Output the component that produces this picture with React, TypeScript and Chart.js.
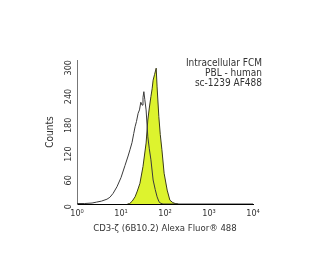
import React, { useEffect, useRef } from "react";
import { Chart, registerables } from "chart.js";

Chart.register(...registerables);

const xTickValues = [1, 10, 100, 1000, 10000];
const xTickLabels = ["10⁰", "10¹", "10²", "10³", "10⁴"];
const yTickValues = [0, 60, 120, 180, 240, 300];

const controlX = [1, 1.5, 2.2, 2.8, 3.6, 4.8, 5.6, 6.6, 8.1, 10, 12.3, 14.5, 16, 17.8, 19.5, 20.9, 22.5, 24.5, 26.3, 28.2, 30.2, 31.6, 33.1, 34.7, 37.2, 40.7, 44, 47.9, 53.7, 60, 66.1, 72, 77.6, 90, 10000];
const controlCounts = [1, 1, 2, 4, 6, 10, 14, 22, 36, 55, 80, 100, 113, 128, 147, 161, 172, 189, 196, 212, 206, 222, 234, 218, 196, 140, 115, 92, 50, 30, 15, 6, 2, 0, 0];

const stainedX = [14, 15.8, 18, 20.9, 23.5, 26.9, 31.6, 37.2, 40.7, 44, 47.9, 51, 53.7, 58, 63.1, 66.1, 72.4, 78, 85.1, 95.5, 112, 129, 150, 170, 200];
const stainedCounts = [0, 1, 6, 15, 27, 43, 78, 127, 175, 200, 224, 240, 258, 270, 283, 244, 182, 145, 113, 64, 29, 8, 3, 1, 0];

const annotationLines = ["Intracellular FCM", "PBL - human", "sc-1239 AF488"];
const xTitle = "CD3-ζ (6B10.2) Alexa Fluor® 488";
const yTitle = "Counts";

const FONT = '"Liberation Sans Narrow", "DejaVu Sans Condensed", "Liberation Sans", sans-serif';
const TEXT = "#333";

export default function App() {
  const ref = useRef<HTMLCanvasElement | null>(null);
  useEffect(() => {
    if (!ref.current) return;
    const annot = {
      id: "annot",
      afterDraw(chart: any) {
        const ctx = chart.ctx;
        ctx.save();
        ctx.font = `10px ${FONT}`;
        ctx.fillStyle = TEXT;
        ctx.textAlign = "right";
        ctx.textBaseline = "middle";
        annotationLines.forEach((t, i) => ctx.fillText(t, 262, 63 + i * 10));
        ctx.restore();
      },
    };
    const chart = new Chart(ref.current, {
      type: "scatter",
      data: {
        datasets: [
          {
            data: controlX.map((x, i) => ({ x, y: controlCounts[i] })),
            showLine: true,
            borderColor: "#3a3a3a",
            borderWidth: 1,
            pointRadius: 0,
            fill: false,
          },
          {
            data: stainedX.map((x, i) => ({ x, y: stainedCounts[i] })),
            showLine: true,
            borderColor: "#3a3a1a",
            borderWidth: 1,
            backgroundColor: "#ddf32e",
            pointRadius: 0,
            fill: "origin",
          },
        ],
      },
      options: {
        animation: false,
        responsive: false,
        layout: { autoPadding: false, padding: { left: 44, top: 60, right: 67, bottom: 41 } },
        plugins: { legend: { display: false }, tooltip: { enabled: false } },
        scales: {
          x: {
            type: "logarithmic",
            min: 1,
            max: 10000,
            grid: { display: false, drawTicks: false },
            border: { color: "#000", width: 1 },
            afterBuildTicks: (s: any) => {
              s.ticks = xTickValues.map((v) => ({ value: v }));
            },
            afterFit: (s: any) => {
              s.height = 30;
            },
            ticks: {
              autoSkip: false,
              maxRotation: 0,
              minRotation: 0,
              padding: 4,
              color: TEXT,
              font: { family: FONT, size: 9 },
              callback: (v: any) => {
                const i = xTickValues.indexOf(Number(v));
                return i >= 0 ? xTickLabels[i] : "";
              },
            },
            title: {
              display: true,
              text: xTitle,
              color: TEXT,
              font: { family: FONT, size: 9.5 },
              padding: { top: 0, bottom: 0 },
            },
          },
          y: {
            min: 0,
            max: 300,
            grid: { display: false, drawTicks: false },
            border: { color: "#777", width: 1, dash: [1, 2] },
            afterBuildTicks: (s: any) => {
              s.ticks = yTickValues.map((v) => ({ value: v }));
            },
            afterFit: (s: any) => {
              s.width = 33;
            },
            ticks: {
              autoSkip: false,
              minRotation: 90,
              maxRotation: 90,
              padding: 8,
              color: TEXT,
              font: { family: FONT, size: 9 },
            },
            title: {
              display: true,
              text: yTitle,
              color: TEXT,
              font: { family: FONT, size: 10 },
              padding: { top: 0, bottom: 0 },
            },
          },
        },
      },
      plugins: [annot],
    });
    return () => chart.destroy();
  }, []);
  return (
    <div style={{ position: "absolute", left: 0, top: 0, width: 320, height: 275, background: "#fff" }}>
      <canvas ref={ref} width={320} height={275} style={{ width: 320, height: 275 }} />
    </div>
  );
}
